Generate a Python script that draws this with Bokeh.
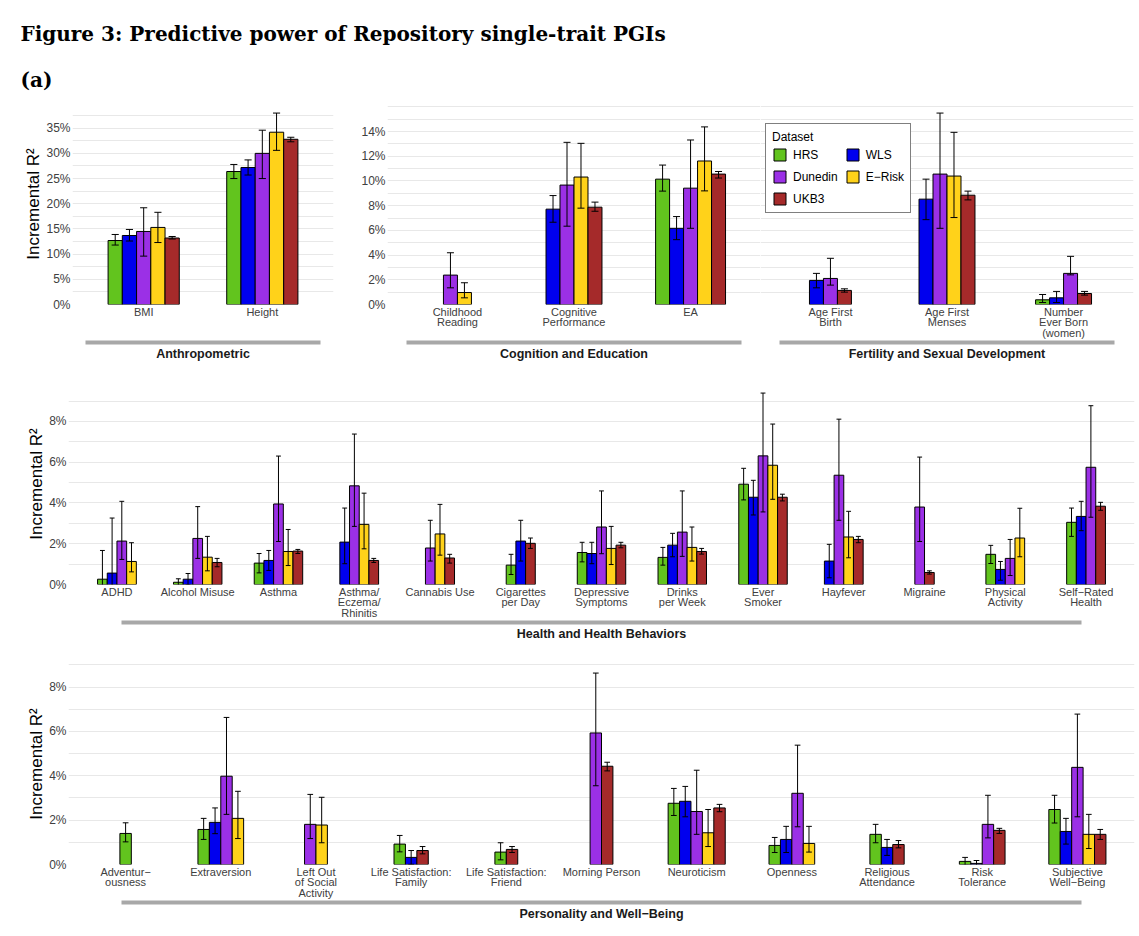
from bokeh.plotting import figure
from bokeh.layouts import column, row
from bokeh.models import (Range1d, LinearAxis, FixedTicker, Grid, PrintfTickFormatter,
                          ColumnDataSource, Legend, LegendItem)
from bokeh.core.properties import value
from bokeh.embed import file_html
from bokeh.resources import INLINE

# ---------------------------------------------------------------------------
# Data: incremental R^2 in percent, as (estimate, CI lower, CI upper); None = not available
# ---------------------------------------------------------------------------
DATASETS = ["HRS", "WLS", "Dunedin", "E\u2212Risk", "UKB3"]
COLORS = ["#62c41e", "#0000ee", "#9b30e6", "#ffd21a", "#a52a2a"]

ANTHRO_TRAITS = ["BMI", "Height"]
ANTHRO_HRS = [(12.7, 11.8, 13.9), (26.4, 25.0, 27.8)]
ANTHRO_WLS = [(13.7, 12.6, 14.9), (27.2, 25.7, 28.7)]
ANTHRO_DUNEDIN = [(14.5, 9.6, 19.2), (30.0, 25.0, 34.6)]
ANTHRO_ERISK = [(15.3, 12.3, 18.3), (34.2, 30.6, 38.0)]
ANTHRO_UKB3 = [(13.2, 13.0, 13.5), (32.8, 32.3, 33.2)]

COGNITION_TRAITS = ["Childhood\nReading", "Cognitive\nPerformance", "EA"]
COGNITION_HRS = [None, None, (10.15, 9.18, 11.29)]
COGNITION_WLS = [None, (7.72, 6.66, 8.82), (6.17, 5.25, 7.12)]
COGNITION_DUNEDIN = [(2.38, 1.35, 4.19), (9.67, 6.34, 13.13), (9.42, 6.17, 13.32)]
COGNITION_ERISK = [(0.97, 0.54, 1.76), (10.32, 7.80, 13.05), (11.62, 9.20, 14.38)]
COGNITION_UKB3 = [None, (7.88, 7.55, 8.29), (10.56, 10.24, 10.77)]

FERTILITY_TRAITS = ["Age First\nBirth", "Age First\nMenses", "Number\nEver Born\n(women)"]
FERTILITY_HRS = [None, None, (0.38, 0.16, 0.81)]
FERTILITY_WLS = [(1.95, 1.35, 2.52), (8.53, 6.87, 10.15), (0.54, 0.16, 1.06)]
FERTILITY_DUNEDIN = [(2.11, 1.57, 3.74), (10.56, 6.17, 15.50), (2.52, 2.40, 3.90)]
FERTILITY_ERISK = [None, (10.40, 7.04, 13.94), None]
FERTILITY_UKB3 = [(1.14, 1.00, 1.27), (8.85, 8.47, 9.18), (0.89, 0.76, 1.06)]

HEALTH_TRAITS = ["ADHD", "Alcohol Misuse", "Asthma", "Asthma/\nEczema/\nRhinitis", "Cannabis Use",
                 "Cigarettes\nper Day", "Depressive\nSymptoms", "Drinks\nper Week", "Ever\nSmoker",
                 "Hayfever", "Migraine", "Physical\nActivity", "Self\u2212Rated\nHealth"]
HEALTH_HRS = [(0.26, -1.15, 1.67), (0.11, -0.06, 0.28), (1.05, 0.57, 1.52), None, None,
              (0.95, 0.49, 1.48), (1.57, 1.11, 2.07), (1.33, 0.95, 1.82), (4.92, 4.15, 5.70),
              None, None, (1.48, 1.03, 1.92), (3.05, 2.36, 3.75)]
HEALTH_WLS = [(0.56, -2.14, 3.26), (0.26, -0.02, 0.54), (1.18, 0.69, 1.67), (2.08, 1.02, 3.75), None,
              (2.13, 1.15, 3.15), (1.52, 1.02, 2.07), (1.93, 1.36, 2.51), (4.28, 3.41, 5.11),
              (1.15, 0.33, 1.97), None, (0.74, 0.21, 1.13), (3.34, 2.64, 4.08)]
HEALTH_DUNEDIN = [(2.13, 1.23, 4.08), (2.26, 1.28, 3.82), (3.95, 2.11, 6.30), (4.84, 2.85, 7.38),
                  (1.79, 1.15, 3.15), None, (2.82, 1.51, 4.59), (2.57, 1.38, 4.59),
                  (6.31, 3.56, 9.39), (5.36, 3.15, 8.11), (3.80, 2.11, 6.25), (1.28, 0.44, 2.21),
                  (5.75, 3.30, 8.77)]
HEALTH_ERISK = [(1.13, 0.62, 2.05), (1.34, 0.67, 2.36), (1.62, 0.93, 2.70), (2.95, 1.75, 4.48),
                (2.48, 1.44, 3.93), None, (1.77, 0.98, 2.85), (1.82, 1.15, 2.82),
                (5.85, 4.18, 7.87), (2.33, 1.31, 3.59), None, (2.28, 1.36, 3.74), None]
HEALTH_UKB3 = [None, (1.08, 0.87, 1.28), (1.64, 1.52, 1.72), (1.18, 1.08, 1.28), (1.30, 1.05, 1.48),
               (2.02, 1.77, 2.28), (1.93, 1.80, 2.07), (1.62, 1.49, 1.77), (4.28, 4.10, 4.43),
               (2.21, 2.05, 2.36), (0.59, 0.51, 0.67), None, (3.84, 3.64, 4.03)]

PERSONALITY_TRAITS = ["Adventur\u2212\nousness", "Extraversion", "Left Out\nof Social\nActivity",
                      "Life Satisfaction:\nFamily", "Life Satisfaction:\nFriend", "Morning Person",
                      "Neuroticism", "Openness", "Religious\nAttendance", "Risk\nTolerance",
                      "Subjective\nWell\u2212Being"]
PERSONALITY_HRS = [(1.40, 1.02, 1.88), (1.58, 1.13, 2.08), None, (0.92, 0.57, 1.31),
                   (0.56, 0.21, 0.98), None, (2.76, 2.21, 3.43), (0.86, 0.54, 1.22),
                   (1.36, 0.98, 1.81), (0.14, -0.04, 0.32), (2.48, 1.87, 3.12)]
PERSONALITY_WLS = [None, (1.90, 1.39, 2.55), None, (0.32, 0.01, 0.63), None, None,
                   (2.85, 2.15, 3.52), (1.13, 0.54, 1.72), (0.77, 0.41, 1.13),
                   (0.05, -0.08, 0.18), (1.49, 0.92, 2.08)]
PERSONALITY_DUNEDIN = [None, (3.98, 2.26, 6.63), (1.81, 1.17, 3.16), None, None,
                       (5.93, 3.55, 8.63), (2.39, 1.36, 4.25), (3.21, 1.70, 5.38), None,
                       (1.81, 1.20, 3.12), (4.38, 2.15, 6.78)]
PERSONALITY_ERISK = [None, (2.08, 1.17, 3.30), (1.78, 0.98, 3.03), None, None, None,
                     (1.43, 0.81, 2.48), (0.95, 0.56, 1.72), None, None, (1.36, 0.72, 2.26)]
PERSONALITY_UKB3 = [None, None, None, (0.63, 0.48, 0.81), (0.68, 0.54, 0.81), (4.43, 4.22, 4.61),
                    (2.55, 2.38, 2.71), None, (0.90, 0.75, 1.08), (1.54, 1.40, 1.63),
                    (1.36, 1.13, 1.58)]

# ---------------------------------------------------------------------------
# Styling helpers
# ---------------------------------------------------------------------------
FONT = "Liberation Sans"
TICK_COLOR = "#404040"
GRID_COLOR = "#e8e8e8"
BAR_W = 0.12
PANEL_W = 0.6  # category padding on either side of a facet


def upper_limit(*panels):
    hi = max(v[2] for series in panels for data in series for v in data if v is not None)
    return hi * 1.05


def base_figure(n, ymax, width, height, left, right, top, bottom):
    p = figure(width=width, height=height,
               x_range=Range1d(1 - PANEL_W, n + PANEL_W), y_range=Range1d(0, ymax),
               x_axis_type=None, y_axis_type=None,
               output_backend="svg", toolbar_location=None,
               min_border_left=left, min_border_right=right,
               min_border_top=top, min_border_bottom=bottom)
    p.outline_line_color = None
    p.background_fill_color = "white"
    p.border_fill_color = "white"
    return p


def add_grid(p, ymax, step):
    ticks = [round(k * step, 6) for k in range(int(ymax / step) + 1)]
    p.add_layout(Grid(dimension=1, ticker=FixedTicker(ticks=ticks),
                      grid_line_color=GRID_COLOR, grid_line_width=1))


def add_y_axis(p, major, label=True):
    ya = LinearAxis(ticker=FixedTicker(ticks=major), formatter=PrintfTickFormatter(format="%d%%"),
                    axis_line_color=None, major_tick_line_color=None, minor_tick_line_color=None,
                    major_tick_out=0, major_tick_in=0, minor_tick_out=0, minor_tick_in=0,
                    major_label_standoff=2, major_label_text_font=FONT,
                    major_label_text_font_size="12px", major_label_text_color=TICK_COLOR,
                    axis_label="Incremental R\u00b2" if label else None, axis_label_text_font=FONT,
                    axis_label_text_font_size="17px", axis_label_text_font_style="normal",
                    axis_label_text_color="black", axis_label_standoff=0)
    p.add_layout(ya, "left")


def pad_lines(label, n=3):
    return label + "\n\u00a0" * (n - len(label.split("\n")))


def add_x_axes(p, traits, facet):
    n = len(traits)
    xa = LinearAxis(ticker=FixedTicker(ticks=list(range(1, n + 1))),
                    major_label_overrides={i + 1: pad_lines(t) for i, t in enumerate(traits)},
                    axis_line_color=None, major_tick_line_color=None, minor_tick_line_color=None,
                    major_tick_out=0, major_tick_in=0, minor_tick_out=0, minor_tick_in=0,
                    major_label_standoff=1, major_label_text_font=FONT,
                    major_label_text_font_size="11px", major_label_text_color=TICK_COLOR,
                    major_label_text_line_height=0.9)
    p.add_layout(xa, "below")
    lo, hi = 1 - PANEL_W, n + PANEL_W
    span = hi - lo
    mid = (lo + hi) / 2
    fa = LinearAxis(ticker=FixedTicker(ticks=[mid]), major_label_overrides={mid: facet},
                    bounds=(lo + 0.05 * span, hi - 0.05 * span),
                    axis_line_color="#a8a8a8", axis_line_width=4,
                    major_tick_line_color=None, minor_tick_line_color=None,
                    major_tick_out=0, major_tick_in=0, minor_tick_out=0, minor_tick_in=0,
                    major_label_standoff=4, major_label_text_font=FONT,
                    major_label_text_font_size="12.5px", major_label_text_font_style="bold",
                    major_label_text_color="#1a1a1a")
    p.add_layout(fa, "below")


def draw_bars(p, traits, series):
    renderers = {}
    err = dict(x=[], lo=[], hi=[], cx0=[], cx1=[])
    for j, (name, color, data) in enumerate(zip(DATASETS, COLORS, series)):
        xs, tops = [], []
        for i in range(len(traits)):
            if data[i] is None:
                continue
            present = [k for k in range(len(series)) if series[k][i] is not None]
            pos = present.index(j)
            x = i + 1 + (pos - (len(present) - 1) / 2) * BAR_W
            est, lo, hi = data[i]
            xs.append(x)
            tops.append(est)
            err["x"].append(x)
            err["lo"].append(lo)
            err["hi"].append(hi)
            err["cx0"].append(x - BAR_W / 4)
            err["cx1"].append(x + BAR_W / 4)
        if xs:
            renderers[name] = p.vbar(x=xs, top=tops, bottom=0, width=BAR_W,
                                     fill_color=color, line_color="black", line_width=1)
    src = ColumnDataSource(err)
    p.segment(x0="x", y0="lo", x1="x", y1="hi", source=src, line_color="black", line_width=1)
    p.segment(x0="cx0", y0="hi", x1="cx1", y1="hi", source=src, line_color="black", line_width=1)
    p.segment(x0="cx0", y0="lo", x1="cx1", y1="lo", source=src, line_color="black", line_width=1)
    return renderers


# ---------------------------------------------------------------------------
# Header
# ---------------------------------------------------------------------------
HEADER_H = 97
header = figure(width=1139, height=HEADER_H, x_range=Range1d(0, 1139), y_range=Range1d(HEADER_H, 0),
                x_axis_type=None, y_axis_type=None, output_backend="svg", toolbar_location=None,
                min_border_left=0, min_border_right=0, min_border_top=0, min_border_bottom=0)
header.outline_line_color = None
header.text(x=[20, 20], y=[33, 79],
            text=["Figure 3: Predictive power of Repository single-trait PGIs", "(a)"],
            text_font=value("DejaVu Serif"), text_font_size="20px", text_font_style="bold",
            text_color="black", text_baseline="middle", text_align="left")

# ---------------------------------------------------------------------------
# Row 1: Anthropometric | Cognition and Education | Fertility and Sexual Development
# ---------------------------------------------------------------------------
anthro = [ANTHRO_HRS, ANTHRO_WLS, ANTHRO_DUNEDIN, ANTHRO_ERISK, ANTHRO_UKB3]
cognition = [COGNITION_HRS, COGNITION_WLS, COGNITION_DUNEDIN, COGNITION_ERISK, COGNITION_UKB3]
fertility = [FERTILITY_HRS, FERTILITY_WLS, FERTILITY_DUNEDIN, FERTILITY_ERISK, FERTILITY_UKB3]

R1_H, R1_TOP, R1_BOT = 275, 6, 68

ymax_a = upper_limit(anthro)
pa = base_figure(len(ANTHRO_TRAITS), ymax_a, 345, R1_H, 72, 12, R1_TOP, R1_BOT)
add_grid(pa, ymax_a, 2.5)
add_y_axis(pa, [0, 5, 10, 15, 20, 25, 30, 35])
draw_bars(pa, ANTHRO_TRAITS, anthro)
add_x_axes(pa, ANTHRO_TRAITS, "Anthropometric")

ymax_bc = upper_limit(cognition, fertility)
pb = base_figure(len(COGNITION_TRAITS), ymax_bc, 415, R1_H, 42, 0, R1_TOP, R1_BOT)
add_grid(pb, ymax_bc, 1)
add_y_axis(pb, [0, 2, 4, 6, 8, 10, 12, 14], label=False)
draw_bars(pb, COGNITION_TRAITS, cognition)
add_x_axes(pb, COGNITION_TRAITS, "Cognition and Education")

pc = base_figure(len(FERTILITY_TRAITS), ymax_bc, 379, R1_H, 0, 6, R1_TOP, R1_BOT)
add_grid(pc, ymax_bc, 1)
rends = draw_bars(pc, FERTILITY_TRAITS, fertility)
add_x_axes(pc, FERTILITY_TRAITS, "Fertility and Sexual Development")

legend_order = ["HRS", "Dunedin", "UKB3", "WLS", "E\u2212Risk"]
legend = Legend(items=[LegendItem(label=name, renderers=[rends[name]]) for name in legend_order],
                location=(5, 91), ncols=2, margin=0, padding=6, spacing=7,
                title="Dataset", title_text_font=FONT, title_text_font_size="12px",
                title_text_font_style="normal", title_text_color="black", title_standoff=3,
                label_text_font=FONT, label_text_font_size="12px", label_text_color="black",
                glyph_width=15, glyph_height=15, label_height=15, label_standoff=6,
                border_line_color="black", border_line_width=1,
                background_fill_color="white", background_fill_alpha=1.0)
pc.add_layout(legend)

# ---------------------------------------------------------------------------
# Row 2: Health and Health Behaviors
# ---------------------------------------------------------------------------
health = [HEALTH_HRS, HEALTH_WLS, HEALTH_DUNEDIN, HEALTH_ERISK, HEALTH_UKB3]
ymax_h = upper_limit(health)
ph = base_figure(len(HEALTH_TRAITS), ymax_h, 1139, 280, 68, 5, 11, 68)
add_grid(ph, ymax_h, 1)
add_y_axis(ph, [0, 2, 4, 6, 8])
draw_bars(ph, HEALTH_TRAITS, health)
add_x_axes(ph, HEALTH_TRAITS, "Health and Health Behaviors")

# ---------------------------------------------------------------------------
# Row 3: Personality and Well-Being
# ---------------------------------------------------------------------------
personality = [PERSONALITY_HRS, PERSONALITY_WLS, PERSONALITY_DUNEDIN, PERSONALITY_ERISK,
               PERSONALITY_UKB3]
ymax_p = upper_limit(personality)
pp = base_figure(len(PERSONALITY_TRAITS), ymax_p, 1139, 284, 68, 5, 11, 72)
add_grid(pp, ymax_p, 1)
add_y_axis(pp, [0, 2, 4, 6, 8])
draw_bars(pp, PERSONALITY_TRAITS, personality)
add_x_axes(pp, PERSONALITY_TRAITS, "Personality and Well\u2212Being")

layout = column(row(header), row(pa, pb, pc), ph, pp)

open("out.html", "w").write(file_html(layout, INLINE))
